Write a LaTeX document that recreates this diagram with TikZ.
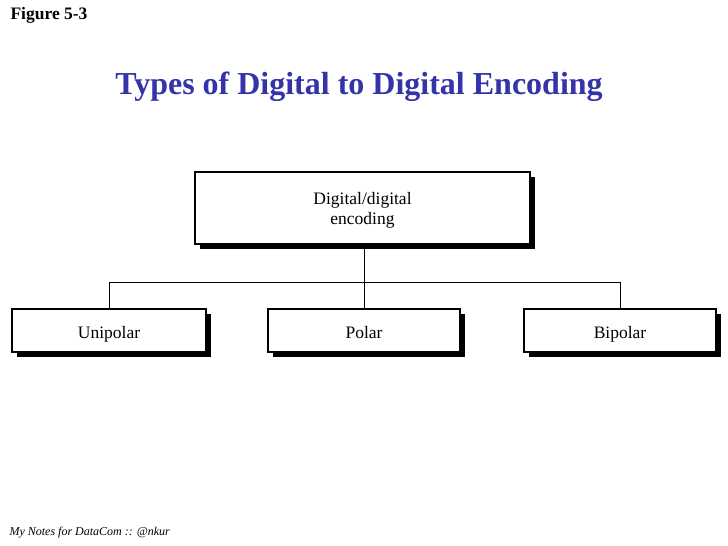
\documentclass[tikz,border=0pt]{standalone}
\usepackage{fontspec}
\setmainfont{Liberation Serif}
\definecolor{titleblue}{RGB}{51,51,170}
\begin{document}
\begin{tikzpicture}[x=1pt,y=-1pt,
  box/.style={draw=black,line width=1.2pt,fill=white,inner sep=0pt},
  lbl/.style={font=\fontsize{17.5}{20}\selectfont,text height=12pt,text depth=4pt,inner sep=0pt},
  toplabel/.style={font=\fontsize{17.5}{20}\selectfont,inner sep=0pt,align=center},
  conn/.style={draw=black,line width=0.6pt}]
\useasboundingbox (0,0) rectangle (728,546);
\node[anchor=west,font=\bfseries\fontsize{17.5}{20}\selectfont] (fig) at (7,15.5) {Figure 5-3};
\node[font=\bfseries\fontsize{32}{36}\selectfont,text=titleblue] (title) at (359,87) {Types of Digital to Digital Encoding};
% shadows
\fill (200,177) rectangle (535,249);
\fill (17,314) rectangle (211,357);
\fill (273,314) rectangle (465,357);
\fill (529,314) rectangle (721,357);
% boxes
\node[box,minimum width=335pt,minimum height=72pt] (top) at (362.5,208) {};
\node[box,minimum width=194pt,minimum height=43pt] (uni) at (109,330.5) {};
\node[box,minimum width=192pt,minimum height=43pt] (pol) at (364,330.5) {};
\node[box,minimum width=192pt,minimum height=43pt] (bip) at (620,330.5) {};
\node[toplabel] (toplbl) at ([yshift=-2pt]top.center) {Digital/digital\\encoding};
\node[lbl] (unilbl) at ([yshift=-3.5pt]uni.center) {Unipolar};
\node[lbl] (pollbl) at ([yshift=-3.5pt]pol.center) {Polar};
\node[lbl] (biplbl) at ([yshift=-3.5pt]bip.center) {Bipolar};
\coordinate (hub) at (364,282);
\draw[conn] (364,249) -- (hub);
\draw[conn] (uni.north |- hub) -- (bip.north |- hub);
\draw[conn] (uni.north |- hub) -- (uni.north);
\draw[conn] (hub) -- (pol.north);
\draw[conn] (bip.north |- hub) -- (bip.north);
\node[anchor=west,font=\itshape\fontsize{12}{14}\selectfont] (foot) at (6,533) {My Notes for DataCom :: @nkur};
\end{tikzpicture}
\end{document}
